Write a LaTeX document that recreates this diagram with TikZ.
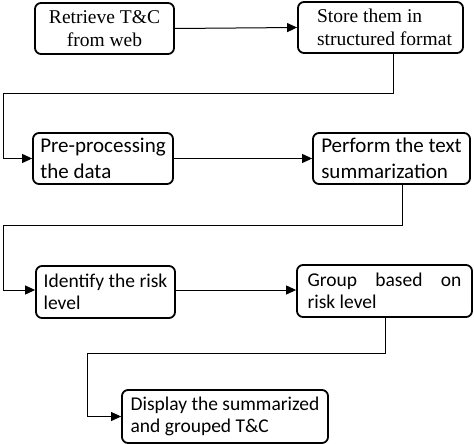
\documentclass[tikz,border=0pt]{standalone}
\usepackage{fontspec}
\setmainfont{Liberation Serif}
\newfontfamily\calfont{Carlito}
\usetikzlibrary{arrows.meta}
\begin{document}
\begin{tikzpicture}[x=1pt,y=-1pt,
  box/.style={draw, line width=1.8pt, rounded corners=6pt, inner sep=0pt},
  serif/.style={font=\fontsize{19.5}{23.3}\selectfont},
  calA/.style={font=\calfont\fontsize{21}{25.5}\selectfont},
  calB/.style={font=\calfont\fontsize{19.5}{22.5}\selectfont},
  conn/.style={line width=1pt, -{Triangle[length=10pt,width=9pt]}}]
\useasboundingbox (0,0) rectangle (474,444);
% boxes
\node[box, serif, minimum width=139pt, minimum height=51pt, align=center] (b1) at (104.5,28.5) {Retrieve T\&C\\from web};
\node[box, serif, minimum width=165pt, minimum height=51pt, align=left] (b2) at (380.5,27.5) {\hspace*{8pt}Store them in\\\hspace*{8pt}structured format};
\node[box, calA, minimum width=140pt, minimum height=51pt, align=left] (b3) at (103,158.5) {Pre-processing\\the data};
\node[box, calA, minimum width=157pt, minimum height=51pt, align=left] (b4) at (391.5,158.5) {Perform the text\\summarization};
\node[box, calB, minimum width=139pt, minimum height=52pt, align=left] (b5) at (105.5,292) {Identify the risk\\level};
\node[box, calB, minimum width=175pt, minimum height=52pt, align=left] (b6) at (384.5,291) {\makebox[154pt][s]{Group based on}\\risk level};
\node[box, calB, minimum width=206pt, minimum height=53pt, align=left] (b7) at (225,416.5) {Display the summarized\\and grouped T\&C};
% connector turn points
\coordinate (c2a) at (393,93);
\coordinate (c2b) at (3,93);
\coordinate (c4a) at (402,225);
\coordinate (c4b) at (3,225);
\coordinate (c6a) at (385,353);
\coordinate (c6b) at (87,353);
% connectors
\draw[conn] (b1.east) -- (b2.west);
\draw[conn] (b2.south -| c2a) -- (c2a) -- (c2b) |- (b3.west);
\draw[conn] (b3.east) -- (b4.west);
\draw[conn] (b4.south -| c4a) -- (c4a) -- (c4b) |- ([yshift=2pt]b5.west);
\draw[conn] ([yshift=2pt]b5.east) -- ([yshift=1pt]b6.west);
\draw[conn] (b6.south -| c6a) -- (c6a) -- (c6b) |- (b7.west);
\end{tikzpicture}
\end{document}
